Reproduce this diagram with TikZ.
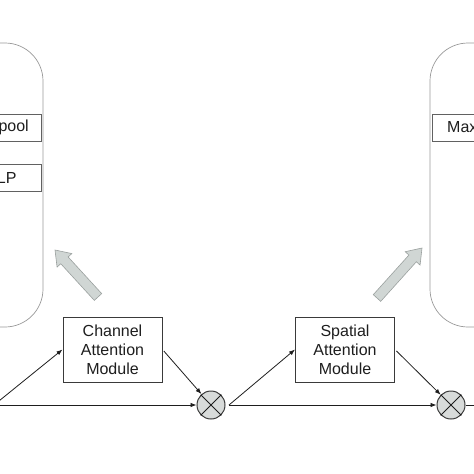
\documentclass[tikz,border=0pt]{standalone}
\usepackage{fontspec}
\setmainfont{Liberation Sans}
\usetikzlibrary{calc,arrows.meta}
\definecolor{panelgray}{HTML}{9A9A9A}
\definecolor{boxline}{HTML}{3A3A3A}
\definecolor{bafill}{HTML}{D0D6D4}
\definecolor{baline}{HTML}{9AA09E}
\definecolor{cfill}{HTML}{D8DBDA}
\definecolor{inkc}{HTML}{1E1E1E}
\newcommand\blockarrow[2]{%
  \coordinate (ba-t) at #1; \coordinate (ba-p) at #2;
  \coordinate (ba-b) at ($(ba-p)!14pt!(ba-t)$);
  \draw[grayarrow] ($(ba-t)!5pt!90:(ba-p)$) -- ($(ba-b)!5pt!-90:(ba-t)$) -- ($(ba-b)!10pt!-90:(ba-t)$) -- (ba-p) -- ($(ba-b)!10pt!90:(ba-t)$) -- ($(ba-b)!5pt!90:(ba-t)$) -- ($(ba-t)!5pt!-90:(ba-p)$) -- cycle;}
\tikzset{
  panel/.style={draw=panelgray, line width=0.7pt, rounded corners=38pt},
  innerbox/.style={draw=boxline!80, line width=0.9pt, minimum height=27pt, inner ysep=0pt, text=inkc, font=\fontsize{16}{19}\selectfont},
  modbox/.style={draw=boxline, line width=1pt, minimum width=99pt, minimum height=65pt, align=center, text=inkc, font=\fontsize{16}{19}\selectfont},
  mult/.style={circle, draw=boxline, line width=1pt, fill=cfill, minimum size=28pt, inner sep=0pt},
  arr/.style={draw=inkc, line width=0.8pt, -{Latex[length=6pt,width=4.5pt]}},
  plain/.style={draw=inkc, line width=0.8pt},
  grayarrow/.style={draw=baline, line width=0.6pt, fill=bafill},
}
\begin{document}
\begin{tikzpicture}[x=1pt,y=-1pt]
\useasboundingbox (0,0) rectangle (474,474);
\clip (0,0) rectangle (474,474);
\fill[white] (0,0) rectangle (474,474);
% panels
\draw[panel] (-70,43) rectangle (43,327);
\draw[panel] (430,43) rectangle (560,327);
\node[innerbox, minimum width=82pt] (avg) at (0,127.5) {Avgpool};
\node[innerbox, minimum width=82pt] (mlp) at (0,177.5) {MLP};
\node[innerbox, anchor=west, inner xsep=5pt, minimum width=90pt, align=left] (max) at (432,128) {Maxpool};
% block arrows
\blockarrow{(98,297)}{(55,250)}
\blockarrow{(377,298)}{(422,248)}
% modules
\node[modbox] (chan) at (112.5,349.5) {Channel\\Attention\\Module};
\node[modbox] (spat) at (345,349.5) {Spatial\\Attention\\Module};
\node[mult] (c1) at (211,405) {};
\draw[inkc, line width=1pt] (c1.north west) -- (c1.south east) (c1.north east) -- (c1.south west);
\node[mult] (c2) at (451,405) {};
\draw[inkc, line width=1pt] (c2.north west) -- (c2.south east) (c2.north east) -- (c2.south west);
\coordinate (in) at (-6,405);
\coordinate (split) at (229,405);
\coordinate (out) at (480,405);
\draw[arr] (in) -- (chan.west);
\draw[arr] (in) -- (c1);
\draw[arr, shorten <=2pt] (chan.east) -- (c1);
\draw[arr] (split) -- (spat.west);
\draw[arr] (split) -- (c2);
\draw[arr, shorten <=2pt] (spat.east) -- (c2);
\draw[plain] (c2) -- (out);
\end{tikzpicture}
\end{document}
